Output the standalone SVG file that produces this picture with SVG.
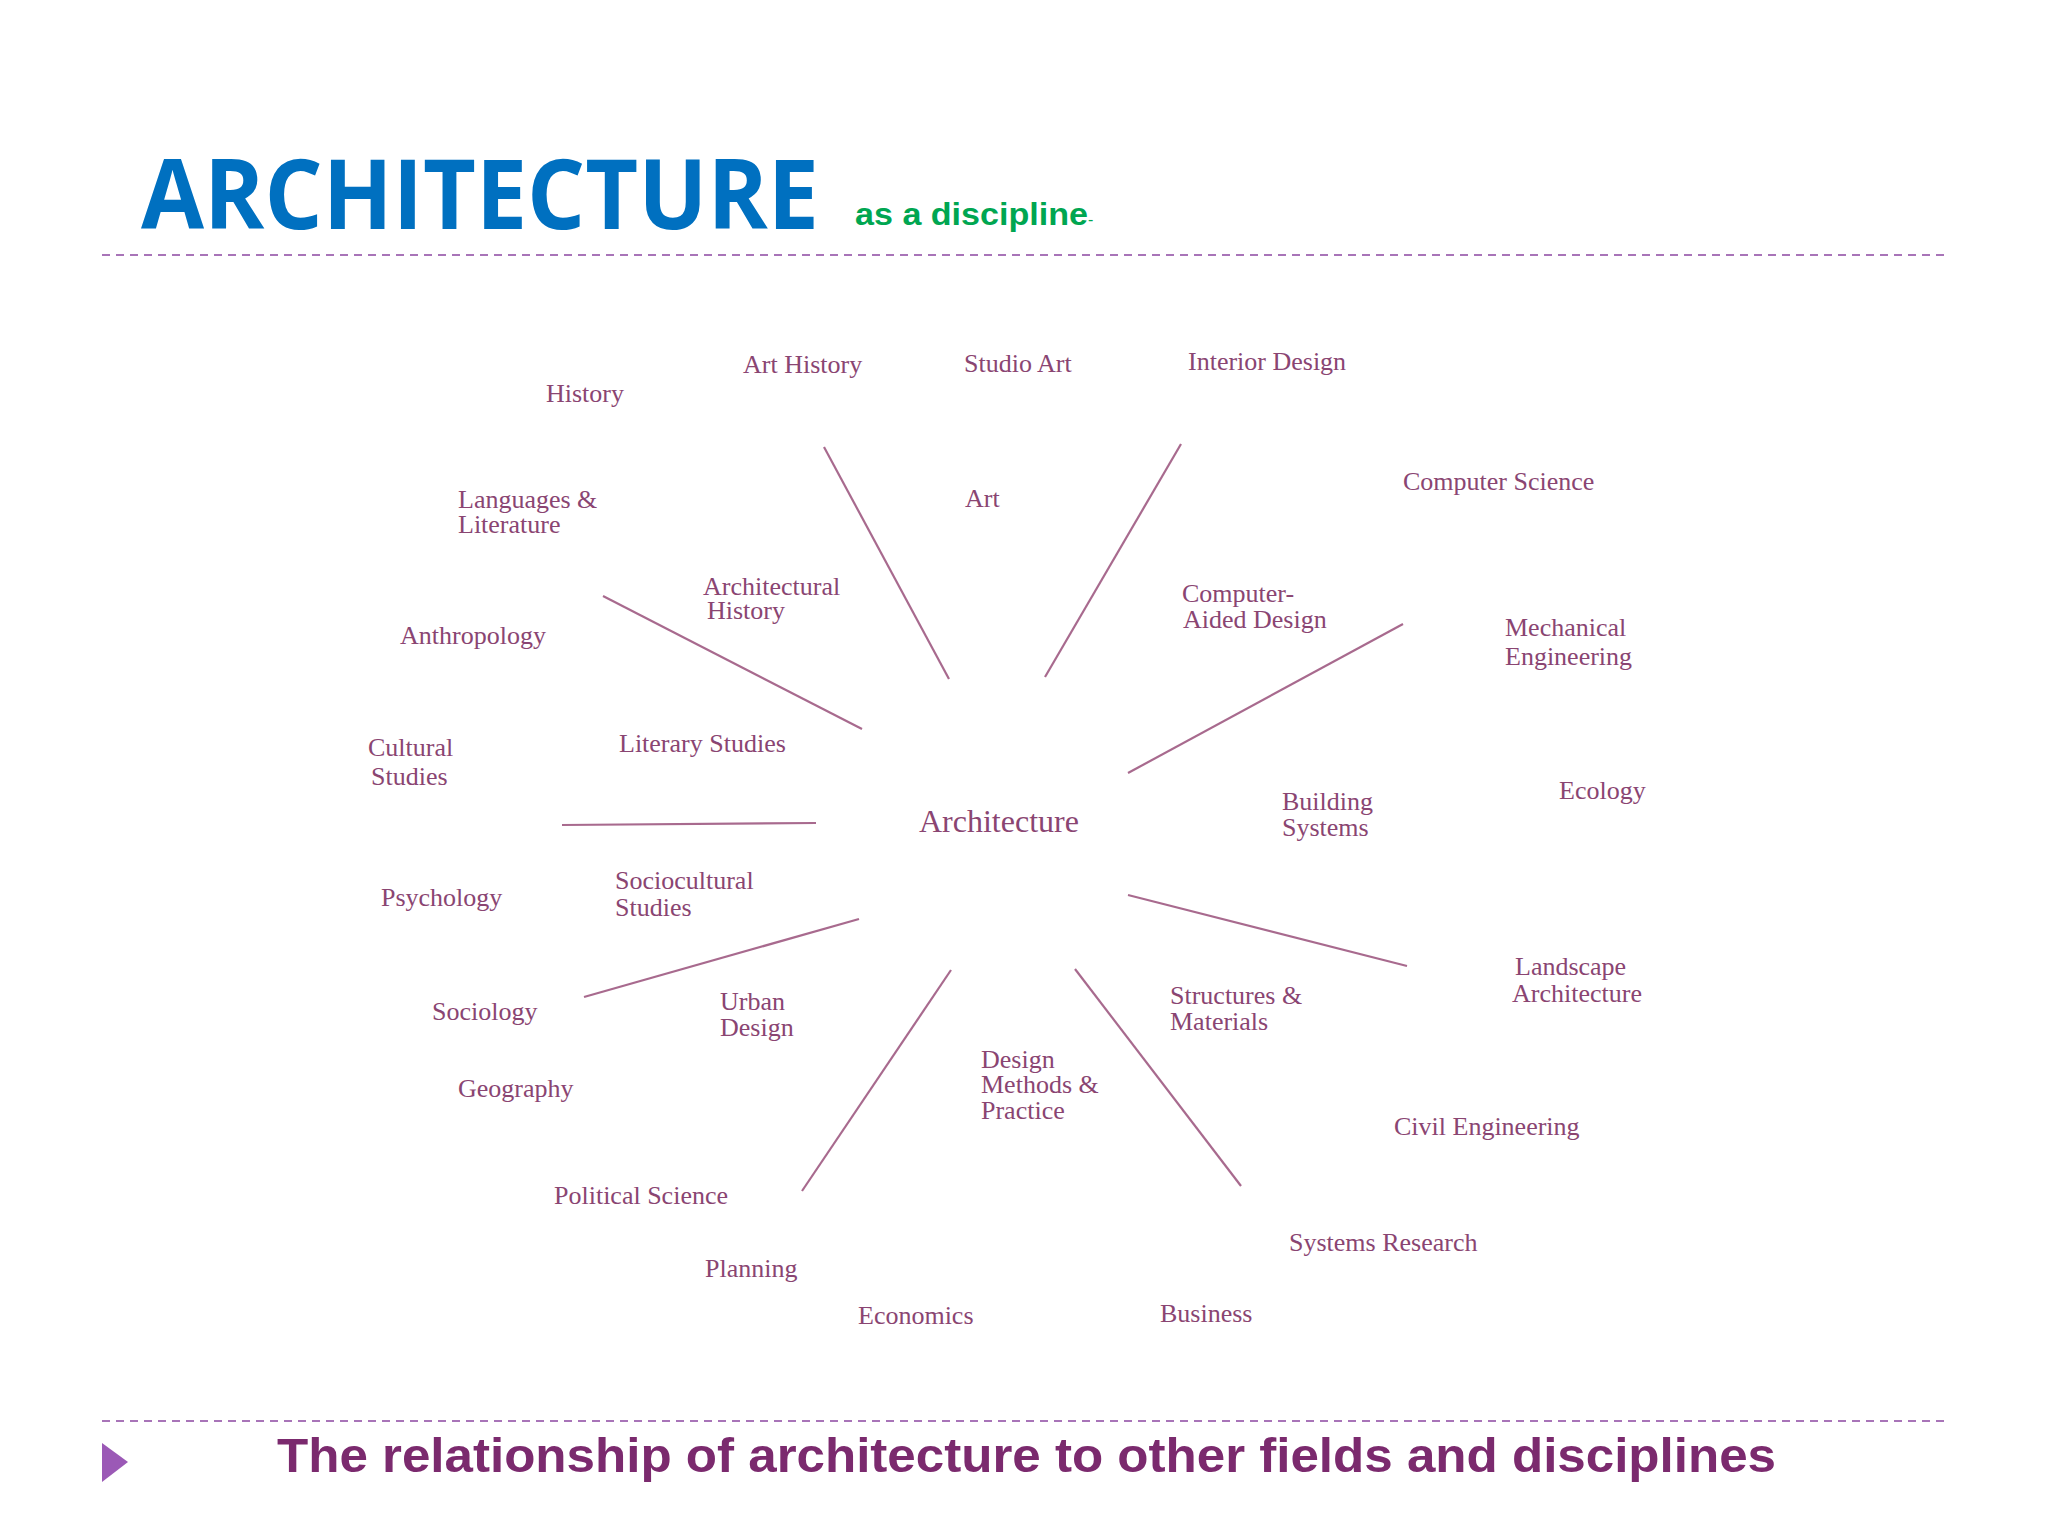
<svg xmlns="http://www.w3.org/2000/svg" width="2048" height="1536" viewBox="0 0 2048 1536">
<style>
.l{font-family:"Liberation Serif",serif;font-size:26px;fill:#8a4572}
.c line{stroke:#a86a8e;stroke-width:2.2}
.d{stroke:#a874b8;stroke-width:2;stroke-dasharray:8,6}
</style>
<rect width="2048" height="1536" fill="#fff"/>
<text x="141" y="229" font-family="Open Sans,sans-serif" font-weight="bold" font-size="96" fill="#0070c0" textLength="678" lengthAdjust="spacingAndGlyphs">ARCHITECTURE</text>
<text x="855" y="225" font-family="Liberation Sans,sans-serif" font-weight="bold" font-size="31" fill="#00a651"><tspan textLength="233" lengthAdjust="spacingAndGlyphs">as a discipline</tspan><tspan font-size="16" font-weight="normal">-</tspan></text>
<line class="d" x1="102" y1="255" x2="1946" y2="255"/>
<line class="d" x1="102" y1="1421" x2="1946" y2="1421"/>
<polygon points="102,1443 128,1462 102,1482" fill="#9b59b6"/>
<text x="277" y="1472" font-family="Liberation Sans,sans-serif" font-weight="bold" font-size="48" fill="#7b2a6e" textLength="1499" lengthAdjust="spacingAndGlyphs">The relationship of architecture to other fields and disciplines</text>
<g class="c" id="connectors">
<line x1="824" y1="447" x2="949" y2="679"/>
<line x1="1181" y1="444" x2="1045" y2="677"/>
<line x1="603" y1="596" x2="862" y2="729"/>
<line x1="1403" y1="624" x2="1128" y2="773"/>
<line x1="562" y1="825" x2="816" y2="823"/>
<line x1="1128" y1="895" x2="1407" y2="966"/>
<line x1="584" y1="997" x2="859" y2="919"/>
<line x1="951" y1="970" x2="802" y2="1191"/>
<line x1="1075" y1="969" x2="1241" y2="1186"/>
</g>
<g id="center"><text class="l" x="919" y="832" style="font-size:32px">Architecture</text></g>
<g id="history"><text class="l" x="546" y="402">History</text></g>
<g id="arthistory"><text class="l" x="743" y="373">Art History</text></g>
<g id="studioart"><text class="l" x="964" y="372">Studio Art</text></g>
<g id="interior"><text class="l" x="1188" y="370">Interior Design</text></g>
<g id="compsci"><text class="l" x="1403" y="490">Computer Science</text></g>
<g id="art"><text class="l" x="965" y="507">Art</text></g>
<g id="lang"><text class="l" x="458" y="508">Languages &amp;</text><text class="l" x="458" y="533">Literature</text></g>
<g id="archhist"><text class="l" x="703" y="595">Architectural</text><text class="l" x="707" y="619">History</text></g>
<g id="cad"><text class="l" x="1182" y="602">Computer-</text><text class="l" x="1183" y="628">Aided Design</text></g>
<g id="mech"><text class="l" x="1505" y="636">Mechanical</text><text class="l" x="1505" y="665">Engineering</text></g>
<g id="anthro"><text class="l" x="400" y="644">Anthropology</text></g>
<g id="cultural"><text class="l" x="368" y="756">Cultural</text><text class="l" x="371" y="785">Studies</text></g>
<g id="literary"><text class="l" x="619" y="752">Literary Studies</text></g>
<g id="building"><text class="l" x="1282" y="810">Building</text><text class="l" x="1282" y="836">Systems</text></g>
<g id="ecology"><text class="l" x="1559" y="799">Ecology</text></g>
<g id="psych"><text class="l" x="381" y="906">Psychology</text></g>
<g id="socio"><text class="l" x="615" y="889">Sociocultural</text><text class="l" x="615" y="916">Studies</text></g>
<g id="landscape"><text class="l" x="1515" y="975">Landscape</text><text class="l" x="1512" y="1002">Architecture</text></g>
<g id="sociology"><text class="l" x="432" y="1020">Sociology</text></g>
<g id="urban"><text class="l" x="720" y="1010">Urban</text><text class="l" x="720" y="1036">Design</text></g>
<g id="structures"><text class="l" x="1170" y="1004">Structures &amp;</text><text class="l" x="1170" y="1030">Materials</text></g>
<g id="design"><text class="l" x="981" y="1068">Design</text><text class="l" x="981" y="1093">Methods &amp;</text><text class="l" x="981" y="1119">Practice</text></g>
<g id="geo"><text class="l" x="458" y="1097">Geography</text></g>
<g id="civil"><text class="l" x="1394" y="1135">Civil Engineering</text></g>
<g id="polisci"><text class="l" x="554" y="1204">Political Science</text></g>
<g id="sysres"><text class="l" x="1289" y="1251">Systems Research</text></g>
<g id="planning"><text class="l" x="705" y="1277">Planning</text></g>
<g id="econ"><text class="l" x="858" y="1324">Economics</text></g>
<g id="business"><text class="l" x="1160" y="1322">Business</text></g>
</svg>
